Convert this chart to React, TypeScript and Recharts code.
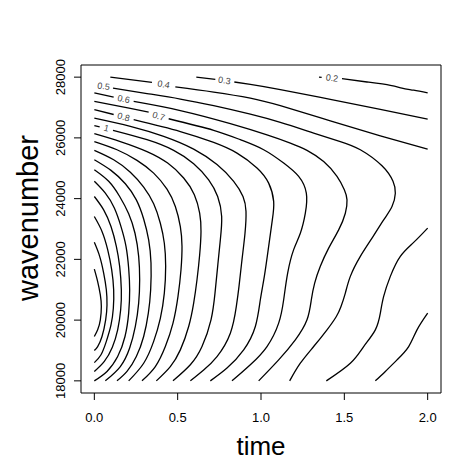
import { ComposedChart, Line, XAxis, YAxis, ReferenceArea, Scatter, Label } from 'recharts';

type Pt = [number, number];

const FONT = '"Liberation Sans", Arial, Helvetica, sans-serif';

// contour segments, [time, wavenumber]; a/b/c = pieces split by labels
const c02a: Pt[] = [[1.348, 28000], [1.364, 27990]];
const c02b: Pt[] = [[1.486, 27950], [1.636, 27840], [1.776, 27730], [1.846, 27640], [1.916, 27570], [2.0, 27480]];
const c03a: Pt[] = [[0.612, 28000], [0.726, 27930]];
const c03b: Pt[] = [[0.84, 27840], [0.936, 27760], [1.116, 27590], [1.416, 27270], [1.716, 26940], [2.0, 26620]];
const c03c: Pt[] = [[2.0, 20230], [1.936, 19680], [1.886, 19130], [1.816, 18690], [1.746, 18310], [1.686, 18000]];
const c04a: Pt[] = [[0.096, 28000], [0.346, 27830]];
const c04b: Pt[] = [[0.486, 27680], [0.716, 27510], [0.936, 27310], [1.116, 27060], [1.416, 26560], [1.716, 26070], [2.0, 25630]];
const c04c: Pt[] = [[2.0, 23030], [1.916, 22560], [1.836, 22100], [1.776, 21440], [1.736, 20780], [1.716, 20230], [1.686, 19680], [1.616, 19130], [1.536, 18580], [1.392, 18000]];
const c05: Pt[] = [[0.112, 27640], [0.316, 27460], [0.516, 27280], [0.716, 27060], [0.936, 26780], [1.116, 26510], [1.316, 26160], [1.476, 25880], [1.596, 25610], [1.726, 25080], [1.792, 24570], [1.806, 24180], [1.786, 23740], [1.736, 23300], [1.672, 22750], [1.596, 22100], [1.536, 21440], [1.506, 20890], [1.48, 20450], [1.452, 20120], [1.396, 19680], [1.316, 19130], [1.236, 18580], [1.172, 18000]];
const c06a: Pt[] = [[0, 27480], [0.116, 27340]];
const c06b: Pt[] = [[0.236, 27200], [0.516, 26900], [0.816, 26470], [1.036, 26100], [1.176, 25830], [1.276, 25590], [1.376, 25220], [1.456, 24730], [1.5, 24290], [1.516, 23960], [1.506, 23520], [1.466, 22970], [1.406, 22370], [1.356, 21770], [1.322, 21220], [1.302, 20670], [1.276, 20010], [1.206, 19350], [1.106, 18690], [0.986, 18000]];
const c07a: Pt[] = [[0, 27200], [0.216, 26970], [0.326, 26850]];
const c07b: Pt[] = [[0.446, 26630], [0.716, 26250], [0.876, 25940], [1.016, 25610], [1.136, 25170], [1.226, 24730], [1.272, 24180], [1.266, 23520], [1.236, 22860], [1.196, 22320], [1.16, 21550], [1.136, 20670], [1.106, 19900], [1.036, 19130], [0.936, 18530], [0.826, 18000]];
const c08a: Pt[] = [[0, 26930], [0.116, 26770]];
const c08b: Pt[] = [[0.236, 26600], [0.516, 26210], [0.716, 25850], [0.856, 25500], [0.976, 25010], [1.046, 24510], [1.076, 23910], [1.068, 23300], [1.046, 22430], [1.02, 21440], [0.996, 20670], [0.966, 19790], [0.896, 19020], [0.796, 18420], [0.696, 18000]];
const c09: Pt[] = [[0, 26650], [0.216, 26380], [0.416, 26050], [0.596, 25630], [0.736, 25120], [0.836, 24570], [0.892, 24070], [0.91, 23580], [0.904, 22860], [0.886, 21990], [0.868, 21110], [0.852, 20450], [0.816, 19570], [0.736, 18800], [0.656, 18360], [0.576, 18000]];
const c10a: Pt[] = [[0, 26400], [0.032, 26360]];
const c10b: Pt[] = [[0.112, 26250], [0.316, 25940], [0.476, 25590], [0.596, 25150], [0.686, 24620], [0.74, 24070], [0.764, 23410], [0.756, 22640], [0.74, 21770], [0.724, 20890], [0.7, 20010], [0.646, 19130], [0.576, 18530], [0.472, 18000]];
const c11: Pt[] = [[0, 26140], [0.156, 25880], [0.316, 25550], [0.44, 25170], [0.536, 24680], [0.6, 24130], [0.632, 23520], [0.64, 22920], [0.632, 22150], [0.616, 21330], [0.596, 20560], [0.566, 19790], [0.516, 19020], [0.456, 18470], [0.372, 18000]];
const c12: Pt[] = [[0, 25880], [0.136, 25610], [0.256, 25260], [0.356, 24840], [0.436, 24310], [0.486, 23740], [0.516, 23080], [0.526, 22430], [0.52, 21660], [0.502, 20780], [0.472, 19900], [0.426, 19130], [0.366, 18470], [0.286, 18000]];
const c13: Pt[] = [[0, 25590], [0.116, 25280], [0.216, 24870], [0.296, 24380], [0.356, 23830], [0.396, 23190], [0.42, 22530], [0.428, 21770], [0.42, 20890], [0.396, 20060], [0.356, 19300], [0.296, 18580], [0.206, 18000]];
const c14: Pt[] = [[0, 25280], [0.1, 24930], [0.186, 24490], [0.252, 23960], [0.296, 23330], [0.326, 22640], [0.34, 21880], [0.338, 21000], [0.324, 20230], [0.296, 19460], [0.252, 18800], [0.196, 18310], [0.136, 18000]];
const c15: Pt[] = [[0, 24950], [0.086, 24570], [0.152, 24070], [0.206, 23500], [0.244, 22860], [0.266, 22100], [0.272, 21330], [0.266, 20560], [0.246, 19790], [0.212, 19080], [0.156, 18470], [0.066, 18000]];
const c16: Pt[] = [[0, 24570], [0.066, 24180], [0.12, 23690], [0.16, 23080], [0.19, 22430], [0.206, 21710], [0.212, 21000], [0.206, 20230], [0.184, 19460], [0.14, 18800], [0.076, 18310], [0, 18000]];
const c17: Pt[] = [[0, 24070], [0.056, 23630], [0.1, 23080], [0.132, 22430], [0.152, 21770], [0.162, 21000], [0.158, 20340], [0.14, 19680], [0.108, 19110], [0.06, 18640], [0, 18310]];
const c18: Pt[] = [[0, 23410], [0.046, 22920], [0.08, 22320], [0.104, 21660], [0.116, 21000], [0.114, 20390], [0.1, 19840], [0.072, 19300], [0.04, 18860], [0, 18600]];
const c19: Pt[] = [[0, 22560], [0.032, 22100], [0.056, 21550], [0.072, 21000], [0.076, 20500], [0.068, 20010], [0.046, 19460], [0.02, 19130], [0, 19000]];
const c20: Pt[] = [[0, 21680], [0.02, 21270], [0.036, 20830], [0.042, 20450], [0.036, 20010], [0.02, 19680], [0, 19460]];

const segments: Pt[][] = [
  c02a, c02b, c03a, c03b, c03c, c04a, c04b, c04c, c05, c06a, c06b, c07a, c07b,
  c08a, c08b, c09, c10a, c10b, c11, c12, c13, c14, c15, c16, c17, c18, c19, c20,
];

// contour labels
const labelText = ['0.2', '0.3', '0.4', '0.5', '0.6', '0.7', '0.8', '1'];
const labelT = [1.426, 0.78, 0.416, 0.056, 0.176, 0.386, 0.176, 0.072];
const labelW = [27970, 27890, 27760, 27700, 27280, 26710, 26690, 26320];
const labelAngle = [7, 8, 10, 7, 12, 17, 15, 14];

const xTicks = [0, 0.5, 1, 1.5, 2];
const yTicks = [18000, 20000, 22000, 24000, 26000, 28000];

const labelRows = labelText.map((text, i) => ({ t: labelT[i], w: labelW[i], text, angle: labelAngle[i] }));

function YTick(props: any) {
  const { y, payload } = props;
  return (
    <text x={65} y={y} transform={`rotate(-90, 65, ${y})`} textAnchor="middle" fontSize={13} fill="#000" fontFamily={FONT}>
      {payload.value}
    </text>
  );
}

function ContourLabel(props: any) {
  const { cx, cy, payload } = props;
  return (
    <text
      x={cx}
      y={cy}
      transform={`rotate(${payload.angle}, ${cx}, ${cy})`}
      textAnchor="middle"
      dominantBaseline="central"
      fontSize={9}
      fill="#444"
      fontFamily={FONT}
    >
      {payload.text}
    </text>
  );
}

export default function App() {
  return (
    <div style={{ position: 'absolute', left: 0, top: 0, background: '#fff' }}>
      <ComposedChart width={474} height={474} margin={{ top: 65, right: 33, bottom: 0, left: 0 }}>
        <XAxis
          type="number"
          dataKey="t"
          domain={[-0.08, 2.08]}
          ticks={xTicks}
          allowDataOverflow
          axisLine={false}
          tickLine={{ stroke: '#000' }}
          tickSize={7}
          tickMargin={13}
          height={81}
          tickFormatter={(v: number) => v.toFixed(1)}
          tick={{ fill: '#000', fontSize: 13, fontFamily: FONT }}
        >
          <Label
            content={() => (
              <text x={261} y={455} textAnchor="middle" fontSize={26} fill="#000" fontFamily={FONT}>
                time
              </text>
            )}
          />
        </XAxis>
        <YAxis
          type="number"
          domain={[17600, 28400]}
          ticks={yTicks}
          allowDataOverflow
          axisLine={false}
          tickLine={{ stroke: '#000' }}
          tickSize={7}
          width={81}
          tick={<YTick />}
        >
          <Label
            content={() => (
              <text x={38} y={218} transform="rotate(-90, 38, 218)" textAnchor="middle" fontSize={29} fill="#000" fontFamily={FONT}>
                wavenumber
              </text>
            )}
          />
        </YAxis>
        {segments.map((seg, i) => (
          <Line
            key={i}
            data={seg.map(([t, w]) => ({ t, w }))}
            dataKey="w"
            type="natural"
            stroke="#000"
            strokeWidth={1.3}
            dot={false}
            activeDot={false}
            isAnimationActive={false}
          />
        ))}
        <Scatter data={labelRows} dataKey="w" shape={<ContourLabel />} isAnimationActive={false} />
        <ReferenceArea x1={-0.08} x2={2.08} y1={17600} y2={28400} fill="none" fillOpacity={0} stroke="#000" strokeWidth={1} />
      </ComposedChart>
    </div>
  );
}
